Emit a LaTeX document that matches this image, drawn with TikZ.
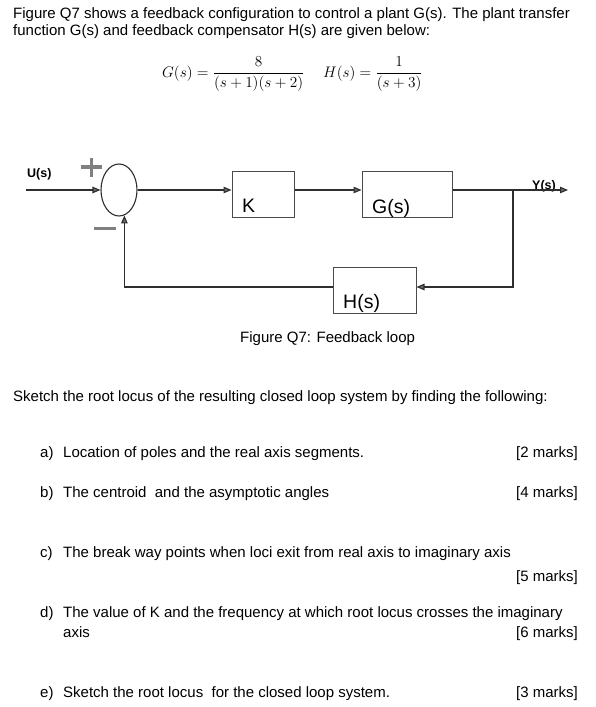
\documentclass[tikz,border=0pt]{standalone}
\usepackage{graphicx}
\usepackage{fontspec}
\setmainfont{Liberation Sans}
\usetikzlibrary{arrows.meta,shapes.geometric}
\definecolor{linec}{HTML}{2E2E2E}
\definecolor{boxc}{HTML}{4A4A4A}
\definecolor{signc}{HTML}{808080}
\definecolor{tipc}{HTML}{6A6A6A}
\newcommand{\Gformula}{\scalebox{1.06}{$\displaystyle G(s)=\frac{8}{(s+1)(s+2)}$}}
\newcommand{\Hformula}{\scalebox{1.06}{$\displaystyle H(s)=\frac{1}{(s+3)}$}}
\begin{document}
\begin{tikzpicture}[x=1pt,y=-1pt,
  body/.style={inner sep=0pt,font=\fontsize{15}{17}\selectfont},
  txt/.style={body,anchor=base west},
  txtr/.style={body,anchor=base east},
  formula/.style={anchor=base west,inner sep=0pt,font=\fontsize{14.4}{17}\selectfont},
  blk/.style={draw=boxc,line width=1pt,minimum height=46pt,inner sep=0pt},
  blklab/.style={anchor=base west,inner sep=0pt,font=\fontsize{19.5}{21}\selectfont},
  sig/.style={anchor=base west,inner sep=0pt,font=\fontsize{12.5}{13}\selectfont\bfseries},
  arr/.style={draw=linec,line width=1.1pt,-{Triangle[length=8pt,width=6.5pt,fill=tipc]}},
  sign/.style={draw=signc,line width=3.2pt}
]
\path[fill=white] (0,0) rectangle (596,707);
\useasboundingbox (0,0) rectangle (596,707);

% header text
\node[txt] (l1) at (13,18.5) {Figure Q7 shows a feedback configuration to control a plant G(s). The plant transfer};
\node[txt] (l2) at (13,35) {function G(s) and feedback compensator H(s) are given below:};

% formulas
\node[formula] (fG) at (162,77) {\Gformula};
\node[formula] (fH) at (323,77) {\Hformula};

% block diagram
\coordinate (in) at (26,190);
\node[draw=linec,line width=1.1pt,ellipse,minimum width=36pt,minimum height=52pt,inner sep=0pt] (sum) at (119,190) {};
\node[blk,minimum width=62pt] (K) at (263,194) {};
\node[blk,minimum width=90pt] (G) at (407,194) {};
\node[blk,minimum width=83pt] (H) at (374.5,290) {};
\node[blklab] (Kl) at (242,212) {K};
\node[blklab] (Gl) at (372,213) {G(s)};
\node[blklab] (Hl) at (343,308) {H(s)};
\node[sig] (U) at (27,177) {U(s)};
\node[sig] (Y) at (532,189) {Y(s)};
\coordinate (br) at (513,190);
\coordinate (out) at (568,190);

\draw[arr] (in) -- (sum.west);
\draw[arr] (sum.east) -- ([yshift=4pt]K.west);
\draw[arr] ([yshift=4pt]K.east) -- ([yshift=4pt]G.west);
\draw[arr] ([yshift=4pt]G.east) -- (out);
\draw[arr] (br) |- ([yshift=3pt]H.east);
\draw[arr] ([yshift=3pt]H.west) -| (sum.-78);

% signs
\draw[sign] (81,167) -- (102,167);
\draw[sign] (91.5,157.5) -- (91.5,177);
\draw[sign] (94,228.5) -- (116,228.5);

% caption and questions
\node[txt] (cap) at (240,342) {Figure Q7: Feedback loop};
\node[txt] (sk) at (13,401) {Sketch the root locus of the resulting closed loop system by finding the following:};

\node[txt] (qa) at (40,457) {a)};
\node[txt] (qat) at (63,457) {Location of poles and the real axis segments.};
\node[txtr] (ma) at (578,457) {[2 marks]};

\node[txt] (qb) at (40,497) {b)};
\node[txt] (qbt) at (63,497) {The centroid~ and the asymptotic angles};
\node[txtr] (mb) at (578,497) {[4 marks]};

\node[txt] (qc) at (40,557) {c)};
\node[txt] (qct) at (63,557) {The break way points when loci exit from real axis to imaginary axis};
\node[txtr] (mc) at (578,581) {[5 marks]};

\node[txt] (qd) at (40,617) {d)};
\node[txt] (qdt) at (63,617) {The value of K and the frequency at which root locus crosses the imaginary};
\node[txt] (qdt2) at (63,637) {axis};
\node[txtr] (md) at (578,637) {[6 marks]};

\node[txt] (qe) at (40,697) {e)};
\node[txt] (qet) at (63,697) {Sketch the root locus~ for the closed loop system.};
\node[txtr] (me) at (578,697) {[3 marks]};
\end{tikzpicture}
\end{document}
